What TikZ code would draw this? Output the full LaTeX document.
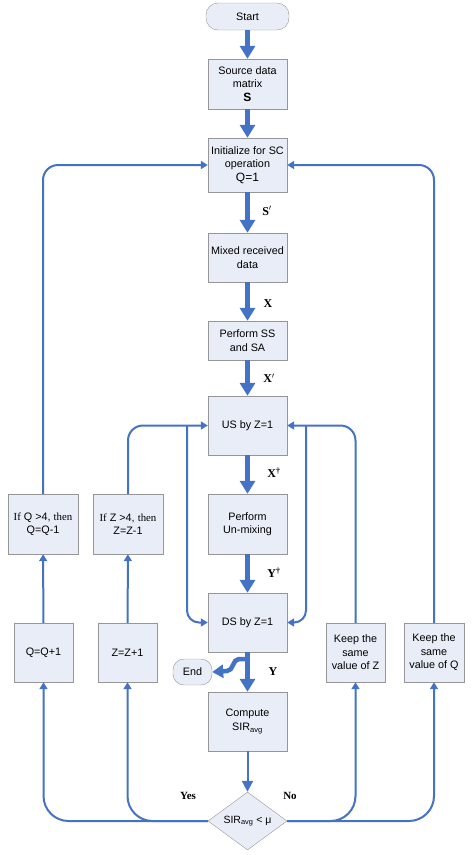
\documentclass[tikz,border=0pt]{standalone}
\usepackage{fontspec}
\setmainfont{Liberation Sans}
\newfontfamily\tnr{Liberation Serif}
\usetikzlibrary{arrows.meta,shapes.geometric}
\definecolor{arr}{RGB}{68,114,196}
\definecolor{bfill}{RGB}{232,237,247}
\definecolor{bdraw}{RGB}{150,150,150}
\begin{document}
\begin{tikzpicture}[x=1pt,y=-1pt,
  box/.style={draw=bdraw, fill=bfill, align=center, inner sep=1pt,
    font=\fontsize{10.8}{13.5}\selectfont},
  mainbox/.style={box, minimum width=79pt},
  term/.style={box, rounded corners=12pt},
  bigarrow/.style={draw=arr, line width=5.8pt, -{Triangle[width=15pt,length=13pt]}},
  thinarrow/.style={draw=arr, line width=2pt, -{Triangle[width=8pt,length=7pt]}},
  lab/.style={font=\tnr\bfseries\fontsize{12}{14}\selectfont, inner sep=0pt},
  yn/.style={font=\tnr\bfseries\fontsize{11}{13}\selectfont, inner sep=0pt}]
\useasboundingbox (0,0) rectangle (474,855);

% main column
\node[term, minimum width=83pt, minimum height=27pt] (start) at (247.5,16.5) {Start};
\node[mainbox, minimum height=50pt] (src) at (247.5,84) {Source data\\matrix\\{\bfseries\fontsize{12}{13.5}\selectfont S}};
\node[mainbox, minimum height=54pt] (init) at (247.5,165) {Initialize for SC\\operation\\{\fontsize{12}{13.5}\selectfont Q=1}};
\node[mainbox, minimum height=49pt] (mixed) at (247.5,257.5) {Mixed received\\data};
\node[mainbox, minimum height=39pt] (perf) at (247.5,340.5) {Perform SS\\and SA};
\node[mainbox, minimum height=59pt] (us) at (247.5,425.5) {US by Z=1};
\node[mainbox, minimum height=60pt] (unmix) at (247.5,524) {Perform\\Un-mixing};
\node[mainbox, minimum height=59pt] (ds) at (247.5,622.5) {DS by Z=1};
\node[mainbox, minimum height=59pt] (comp) at (247.5,721.5) {Compute\\SIR\textsubscript{avg}};
\node[draw=bdraw, fill=bfill, diamond, minimum width=79pt, minimum height=58pt, inner sep=0pt] (dec) at (247.5,821) {};
\node[font=\fontsize{10.5}{12}\selectfont, inner sep=0pt] (dect) at (dec) {SIR\textsubscript{avg} < μ};
\node[term, minimum width=39pt, minimum height=26pt, rounded corners=11pt] (end) at (192.5,672) {End};

% side boxes
\node[box, minimum width=70pt, minimum height=60pt] (ifq) at (43,524) {{\tnr If} Q >4, {\tnr then}\\Q=Q-1};
\node[box, minimum width=70pt, minimum height=60pt] (ifz) at (128,524) {{\tnr If} Z >4, {\tnr then}\\Z=Z-1};
\node[box, minimum width=59pt, minimum height=59pt] (qq) at (43.5,652.5) {Q=Q+1};
\node[box, minimum width=59pt, minimum height=59pt] (zz) at (127.5,652.5) {Z=Z+1};
\node[box, minimum width=59pt, minimum height=59pt] (kz) at (355.5,652.5) {Keep the\\same\\value of Z};
\node[box, minimum width=60pt, minimum height=59pt] (kq) at (434,652.5) {Keep the\\same\\value of Q};

% main thick arrows
\draw[bigarrow] (start) -- (src);
\draw[bigarrow] (src) -- (init);
\draw[bigarrow] (init) -- (mixed);
\draw[bigarrow] (mixed) -- (perf);
\draw[bigarrow] (perf) -- (us);
\draw[bigarrow] (us) -- (unmix);
\draw[bigarrow] (unmix) -- (ds);
\coordinate (eb) at (247.5,659);
\draw[draw=arr, line width=4.5pt, -{Triangle[width=13pt,length=11pt]}]
  (eb) -- (239,659) to[out=180,in=0] (227,671) -- (end.east);
\draw[bigarrow] (ds) -- (comp);
\draw[draw=arr, line width=2pt, -{Triangle[width=11pt,length=11pt]}] (comp) -- (dec);

% labels
\node[lab] (ls) at (267,211) {S$^{\prime}$};
\node[lab] (lx) at (268,304) {X};
\node[lab] (lx2) at (269,378) {X$^{\prime}$};
\node[lab] (lxd) at (274,473) {X\textsuperscript{†}};
\node[lab] (lyd) at (274,573) {Y\textsuperscript{†}};
\node[lab] (ly) at (273,672) {Y};
\node[yn] (yes) at (188,796) {Yes};
\node[yn] (no) at (290,796) {No};

% bottom loops
\coordinate (xq) at (43.5,0);
\coordinate (xz) at (127.5,0);
\coordinate (xkz) at (355.5,0);
\coordinate (xkq) at (434,0);
\draw[thinarrow, rounded corners=25pt] (dec.west) -- (xq |- dec.west) -- (qq.south);
\draw[thinarrow, rounded corners=25pt] (dec.west) -- (xz |- dec.west) -- (zz.south);
\draw[thinarrow, rounded corners=25pt] (dec.east) -- (xkq |- dec.east) -- (kq.south);
\draw[thinarrow, rounded corners=25pt] (dec.east) -- (xkz |- dec.east) -- (kz.south);

% side arrows
\draw[thinarrow] (qq) -- (ifq);
\draw[thinarrow] (zz) -- (ifz);
\draw[thinarrow, rounded corners=15pt] (ifq.north) |- (init.west);
\draw[thinarrow, rounded corners=15pt] (kq.north) |- (init.east);
\draw[thinarrow, rounded corners=15pt] (ifz.north) |- (us.west);
\draw[thinarrow, rounded corners=15pt] (kz.north) |- (us.east);
\coordinate (bl) at (187,425.5);
\coordinate (br) at (306,425.5);
\draw[thinarrow, rounded corners=12pt] (bl) |- (ds.west);
\draw[thinarrow, rounded corners=12pt] (br) |- (ds.east);
\end{tikzpicture}
\end{document}
